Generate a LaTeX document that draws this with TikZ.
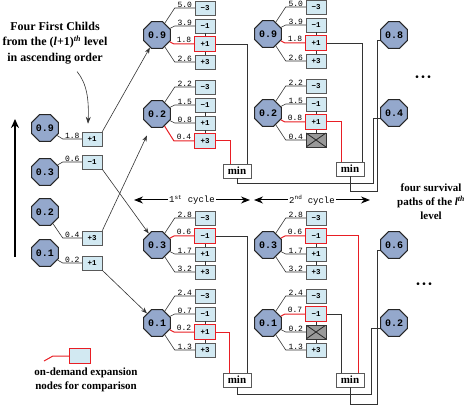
\documentclass[tikz,border=0pt]{standalone}
\usepackage{fontspec}
\setmainfont{Liberation Serif}
\setmonofont{Liberation Mono}
\usetikzlibrary{arrows.meta,positioning,calc,shapes.geometric}

\definecolor{octblue}{RGB}{148,168,204}
\definecolor{kidblue}{RGB}{210,233,242}
\definecolor{markred}{RGB}{232,30,36}

% one parent of a cycle and its four children (value/sign/kind)
\newcommand{\childblock}[5]{%
  \node[oct] (#1) at (#2,#3) {#4};
  \foreach \v/\s/\k [count=\i] in {#5} {
    \node[kid\k] (#1\i) at (#2+48,#3-45+18*\i) {\s};
    \draw[link\k] (#1) -- ([xshift=-20pt]#1\i.west)
      -- node[num, above] {\v} (#1\i.west);
  }
  \draw[wire] (#12) -- (#13) (#13) -- (#14);
}

\begin{document}
\begin{tikzpicture}[x=1pt, y=-1pt,
  oct/.style={regular polygon, regular polygon sides=8, minimum size=29pt,
    inner sep=0pt, draw=black!85, line width=1.1pt, fill=octblue,
    font=\ttfamily\bfseries\fontsize{10}{10}\selectfont},
  kidn/.style={draw=black!65, fill=kidblue, line width=0.5pt, inner sep=0pt,
    minimum width=20pt, minimum height=14pt,
    font=\ttfamily\bfseries\fontsize{7.5}{8}\selectfont},
  kidr/.style={kidn, draw=markred, line width=1.1pt,
    minimum width=21pt, minimum height=15pt},
  kidx/.style={kidn, fill=black!40, draw=black!80,
    path picture={\draw[black!85, line width=0.8pt]
      (path picture bounding box.north west) -- (path picture bounding box.south east)
      (path picture bounding box.north east) -- (path picture bounding box.south west);}},
  wire/.style={draw=black!80, line width=0.6pt},
  linkn/.style={wire},
  linkx/.style={wire},
  linkr/.style={draw=markred, line width=1pt},
  num/.style={font=\ttfamily\fontsize{8}{8}\selectfont, inner sep=0.5pt},
  minbox/.style={draw=black!65, fill=white, line width=0.6pt, inner sep=0pt,
    minimum width=28pt, minimum height=14pt,
    font=\bfseries\fontsize{11}{11}\selectfont},
  note/.style={font=\bfseries\fontsize{11}{14}\selectfont, align=center},
  pick/.style={wire, -{Stealth[length=6pt, width=4.5pt]}},
  cyc/.style={line width=1pt, {Stealth[length=9pt, width=7pt]}-{Stealth[length=9pt, width=7pt]}},
  cyclab/.style={fill=white, inner sep=1pt, font=\ttfamily\fontsize{9}{9}\selectfont},
  more/.style={font=\bfseries\fontsize{10}{10}\selectfont}
]
\useasboundingbox (0,0) rectangle (474,406);

% l-th level: four first children in ascending order
\node[oct] (q9) at (45,128) {0.9};
\node[oct] (q3) at (45,172) {0.3};
\node[oct] (q2) at (45,212) {0.2};
\node[oct] (q1) at (45,253) {0.1};
\node[kidn] (k9) at (92,139) {+1};
\node[kidn] (k3) at (92,162) {−1};
\node[kidn] (k2) at (92,238) {+3};
\node[kidn] (k1) at (92,263) {+1};
\foreach \p/\k/\v in {q9/k9/1.8, q3/k3/0.6, q2/k2/0.4, q1/k1/0.2} {
  \draw[wire] (\p) -- ([xshift=-19pt]\k.west) -- node[num, above] {\v} (\k.west);
}

\coordinate (up0) at (15,257);
\coordinate (up1) at (15,119);
\draw[line width=2.4pt, -{Stealth[length=9pt, width=8pt]}] (up0) -- (up1);

\node[note, font=\bfseries\fontsize{12}{15.5}\selectfont] (head) at (55,43)
  {Four First Childs\\from the (\textit{l}+1)\textsuperscript{\textit{th}} level\\in ascending order};
\draw[wire, -{Stealth[length=7pt, width=5pt]}] ([xshift=22pt,yshift=-4pt]head.south)
  .. controls +(10,12) and +(1,-24) .. ([xshift=-4pt,yshift=8pt]k9.north);

% 1st cycle
\childblock{A}{157}{35}{0.9}{5.0/−3/n, 3.9/−1/n, 1.8/+1/r, 2.6/+3/n}
\childblock{B}{157}{114}{0.2}{2.2/−3/n, 1.5/−1/n, 0.8/+1/n, 0.4/+3/r}
\childblock{C}{157}{245}{0.3}{2.8/−3/n, 0.6/−1/r, 1.7/+1/n, 3.2/+3/n}
\childblock{D}{157}{323}{0.1}{2.4/−3/n, 0.7/−1/n, 0.2/+1/r, 1.3/+3/n}

% 2nd cycle
\childblock{E}{268}{34}{0.9}{5.0/−3/n, 3.9/−1/n, 1.8/+1/r, 2.6/+3/n}
\childblock{F}{268}{113}{0.2}{2.2/−3/n, 1.5/−1/n, 0.8/+1/r, 0.4//x}
\childblock{G}{268}{245}{0.3}{2.8/−3/n, 0.6/−1/r, 1.7/+1/n, 3.2/+3/n}
\childblock{H}{268}{323}{0.1}{2.4/−3/n, 0.7/−1/r, 0.2//x, 1.3/+3/n}

% first children feed the parents of the cycles
\draw[pick] (k9.north east) -- (A);
\draw[pick] (k3.south east) -- (C);
\draw[pick, shorten >=9pt] (k2.north east) -- (B);
\draw[pick] (k1.south east) -- (D);

% cycle arrows
\coordinate (c1w) at (134,200);
\coordinate (c1e) at (250,200);
\coordinate (c2w) at (254,200);
\coordinate (c2e) at (370,200);
\draw[cyc] (c1w) -- node[cyclab] {1\textsuperscript{st} cycle} (c1e);
\draw[cyc] (c2w) -- node[cyclab] {2\textsuperscript{nd} cycle} (c2e);

% comparisons
\node[minbox] (m1) at (237,171) {min};
\node[minbox] (m2) at (350,169) {min};
\node[minbox] (m3) at (237,380) {min};
\node[minbox] (m4) at (350,380) {min};

% survival paths of the l-th level
\node[oct] (s8) at (394,35) {0.8};
\node[oct] (s4) at (394,113) {0.4};
\node[oct] (s6) at (394,245) {0.6};
\node[oct] (s2) at (394,323) {0.2};
\node[more] (more1) at (423,78) {• • •};
\node[more] (more2) at (424,285) {• • •};

\draw[wire] (A3.east) -| ([xshift=10pt]m1.north);
\draw[linkr] (B4.east) -| ([xshift=-7pt]m1.north);
\draw[wire] (E3.east) -| ([xshift=12pt]m2.north);
\draw[linkr] (F3.east) -| ([xshift=-9pt]m2.north);
\draw[wire] (C2.east) -| ([xshift=10pt]m3.north);
\draw[linkr] (D3.east) -| ([xshift=-8pt]m3.north);
\draw[linkr] (G2.east) -| ([xshift=8pt]m4.north);
\draw[wire] (H2.east) -| ([xshift=-9pt]m4.north);

\draw[wire] (m1.south) -- ++(0,5) -| ([xshift=-7pt,yshift=-5pt]s4.west) -- ([yshift=-5pt]s4.west);
\draw[wire] (m2.south) -- ++(0,15) -| ([xshift=-3pt,yshift=-5pt]s8.west) -- ([yshift=-5pt]s8.west);
\draw[wire] (m3.south) -- ++(0,7) -| ([xshift=-9pt,yshift=-5pt]s2.west) -- ([yshift=-5pt]s2.west);
\draw[wire] (m4.south) -- ++(0,17) -| ([xshift=-3pt,yshift=-5pt]s6.west) -- ([yshift=-5pt]s6.west);

\node[note] (surv) at (431,202) {four survival\\paths of the \textit{l}\textsuperscript{\textit{th}}\\level};

% legend
\node[kidr] (key) at (80,356) {};
\coordinate (keyend) at (44,361);
\draw[linkr] (key.west) -- ++(-16,0) -- (keyend);
\node[note] (keytext) at (86,380) {on-demand expansion\\nodes for comparison};

\end{tikzpicture}
\end{document}
